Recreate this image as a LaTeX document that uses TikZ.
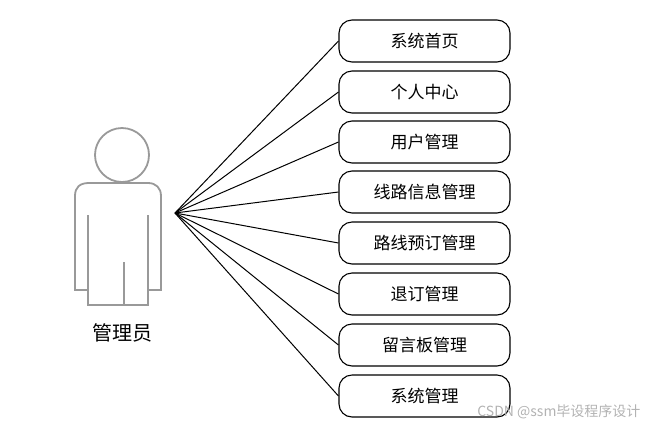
\documentclass[tikz,border=0pt]{standalone}
\usepackage{fontspec}
\setmainfont{Noto Sans CJK SC}
\begin{document}
\begin{tikzpicture}[x=1pt,y=-1pt,
  uc/.style={draw,line width=1.1pt,rounded corners=13pt,minimum width=171pt,minimum height=42pt,font=\fontsize{17}{19}\selectfont,inner sep=0pt}]
\useasboundingbox (0,0) rectangle (658,432);
\coordinate (hub) at (175,213);
\foreach \t/\y [count=\i] in {系统首页/41,个人中心/92,用户管理/142,线路信息管理/192,路线预订管理/243,退订管理/294,留言板管理/345,系统管理/396}{
  \node[uc] (u\i) at (424.5,\y) {\t};
  \draw[line width=1pt] (hub) -- (u\i.west);
}
\begin{scope}[draw=gray!80,line width=1.8pt]
\draw (122,155) circle (27);
\draw (75,290)--(75,196) .. controls (75,187) and (80,183) .. (89,183) -- (148,183) .. controls (156,183) and (161,188) .. (161,196) -- (161,290) -- (148,290) -- (148,305) -- (124,305) -- (124,262) -- (124,305) -- (88,305) -- (88,290) -- cycle;
\draw (88,290)--(88,215);
\draw (148,290)--(148,215);
\end{scope}
\node (lab) at (122,333) {\fontsize{20}{22}\selectfont 管理员};
\node[text=gray!60,anchor=east] (wm) at (644,412) {\fontsize{14}{16}\selectfont CSDN @ssm毕设程序设计};
\end{tikzpicture}
\end{document}
